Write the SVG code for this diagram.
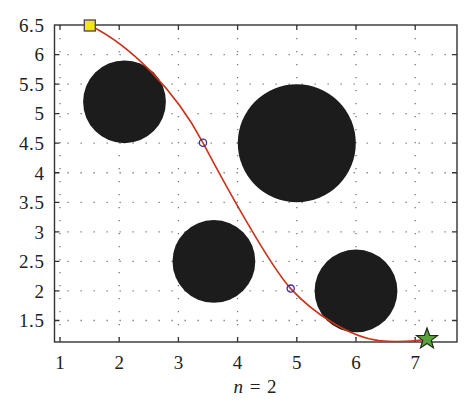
<svg xmlns="http://www.w3.org/2000/svg" width="474" height="413" viewBox="0 0 474 413">
<style>
.grid{stroke:#777;stroke-width:1.3;stroke-dasharray:1.3 11.7;fill:none}
.tick{stroke:#333;stroke-width:1.3;fill:none}
.lbl{font-family:"Liberation Serif","Times New Roman",serif;font-size:19px;fill:#222}
.obs{fill:#1c1c1c}
.wp{fill:none;stroke:#3b2d9c;stroke-width:1.3}
</style>
<rect width="474" height="413" fill="#fff"/>
<g id="grid">
<path class="grid" d="M60,25V342M119.2,25V342M178.4,25V342M237.6,25V342M296.8,25V342M356,25V342M415.2,25V342"/>
<path class="grid" d="M54.5,54.55H457M54.5,84.1H457M54.5,113.65H457M54.5,143.2H457M54.5,172.75H457M54.5,202.3H457M54.5,231.85H457M54.5,261.4H457M54.5,290.95H457M54.5,320.5H457"/>
</g>
<g id="obstacles">
<circle id="obs1" class="obs" cx="124.5" cy="101.8" r="41.4"/>
<circle id="obs2" class="obs" cx="296.8" cy="143.2" r="59"/>
<circle id="obs3" class="obs" cx="213.9" cy="261.4" r="41.4"/>
<circle id="obs4" class="obs" cx="356" cy="290.95" r="41.4"/>
</g>
<g id="axes">
<rect x="54.5" y="25" width="402.5" height="317" fill="none" stroke="#333" stroke-width="1.4"/>
<path class="tick" d="M60,342v-5M119.2,342v-5M178.4,342v-5M237.6,342v-5M296.8,342v-5M356,342v-5M415.2,342v-5M60,25v5M119.2,25v5M178.4,25v5M237.6,25v5M296.8,25v5M356,25v5M415.2,25v5"/>
<path class="tick" d="M54.5,54.55h5M54.5,84.1h5M54.5,113.65h5M54.5,143.2h5M54.5,172.75h5M54.5,202.3h5M54.5,231.85h5M54.5,261.4h5M54.5,290.95h5M54.5,320.5h5M457,54.55h-5M457,84.1h-5M457,113.65h-5M457,143.2h-5M457,172.75h-5M457,202.3h-5M457,231.85h-5M457,261.4h-5M457,290.95h-5M457,320.5h-5"/>
<g class="lbl" text-anchor="end" letter-spacing="0.6">
<text x="44.5" y="31.8">6.5</text>
<text x="44.5" y="61.3">6</text>
<text x="44.5" y="90.9">5.5</text>
<text x="44.5" y="120.4">5</text>
<text x="44.5" y="150">4.5</text>
<text x="44.5" y="179.5">4</text>
<text x="44.5" y="209.1">3.5</text>
<text x="44.5" y="238.6">3</text>
<text x="44.5" y="268.2">2.5</text>
<text x="44.5" y="297.7">2</text>
<text x="44.5" y="327.3">1.5</text>
</g>
<g class="lbl" text-anchor="middle">
<text x="60" y="368.8">1</text>
<text x="119.2" y="368.8">2</text>
<text x="178.4" y="368.8">3</text>
<text x="237.6" y="368.8">4</text>
<text x="296.8" y="368.8">5</text>
<text x="356" y="368.8">6</text>
<text x="415.2" y="368.8">7</text>
<text x="255" y="393" word-spacing="2"><tspan font-style="italic">n</tspan> = 2</text>
</g>
</g>
<g id="connectors">
<path id="path" fill="none" stroke="#c8331a" stroke-width="1.6" d="M90,25.5 C130,45 175,90 203,142.8 C222,178.8 268.7,264.6 290.7,288.6 C312.7,312.6 350,337.7 380,340.7 C395,342.2 415,341 427,339.5"/>
</g>
<g id="waypoint1"><circle class="wp" cx="203" cy="142.8" r="3.6"/></g>
<g id="waypoint2"><circle class="wp" cx="290.7" cy="288.6" r="3.6"/></g>
<g id="start"><rect x="84.3" y="20" width="11" height="11" fill="#f2e51c" stroke="#4a4060" stroke-width="1.3"/></g>
<g id="goal"><polygon points="427,328 429.65,335.36 437.46,335.6 431.28,340.39 433.47,347.9 427,343.5 420.53,347.9 422.72,340.39 416.54,335.6 424.35,335.36" fill="#5aa33c" stroke="#1f2a1a" stroke-width="1.2" stroke-linejoin="miter"/></g>
</svg>
